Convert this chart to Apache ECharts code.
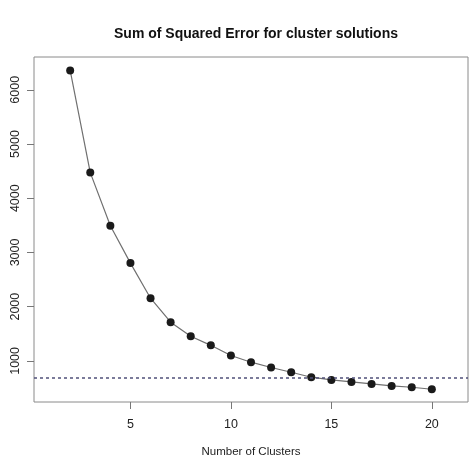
<!DOCTYPE html>
<html>
<head>
<meta charset="utf-8">
<script src="https://cdn.jsdelivr.net/npm/echarts@6/dist/echarts.min.js"></script>
<style>html,body{margin:0;padding:0;background:#fff}#c{width:474px;height:474px}</style>
</head>
<body>
<div id="c"></div>
<script>
const clusters = [2,3,4,5,6,7,8,9,10,11,12,13,14,15,16,17,18,19,20];
const sse = [6357,4472,3492,2803,2156,1713,1454,1287,1100,976,878,791,699,649,612,575,538,514,477];
const refLine = 695;
const xTicks = [5,10,15,20];
const yTicks = [1000,2000,3000,4000,5000,6000];
const titleText = 'Sum of Squared Error for cluster solutions';
const xName = 'Number of Clusters';

const font = 'Liberation Sans, Arial, Helvetica, sans-serif';
const chart = echarts.init(document.getElementById('c'), null, {renderer:'canvas'});
chart.setOption({
  backgroundColor: '#fff',
  animation: false,
  title: {
    text: titleText, left: 251, top: 22, textAlign: 'center',
    textStyle: {fontFamily: font, fontSize: 14, fontWeight: 'bold', color: '#111'}
  },
  grid: {left: 34, right: 6, top: 57, bottom: 72, show: true, borderColor: '#8a8a8a', borderWidth: 1, backgroundColor: 'transparent'},
  xAxis: {
    type: 'value', min: 0.2, max: 21.8,
    name: xName, nameLocation: 'middle', nameGap: 44,
    nameTextStyle: {fontFamily: font, fontSize: 11.5, color: '#222'},
    axisLine: {show: false},
    axisTick: {show: true, length: 7, customValues: xTicks, lineStyle: {color: '#777'}},
    axisLabel: {customValues: xTicks, margin: 16, fontFamily: font, fontSize: 12.5, color: '#222',
      formatter: v => String(v)},
    splitLine: {show: false}
  },
  yAxis: {
    type: 'value', min: 242, max: 6604,
    axisLine: {show: false},
    axisTick: {show: true, length: 7, customValues: yTicks, lineStyle: {color: '#777'}},
    axisLabel: {customValues: yTicks, rotate: 90, margin: 12, fontFamily: font, fontSize: 12.5, color: '#222',
      formatter: v => String(v)},
    splitLine: {show: false}
  },
  series: [{
    type: 'line',
    data: clusters.map((c, i) => [c, sse[i]]),
    symbol: 'circle', symbolSize: 8,
    lineStyle: {color: '#707070', width: 1.2},
    itemStyle: {color: '#1a1a1a'},
    markLine: {
      silent: true, symbol: ['none','none'], label: {show: false},
      lineStyle: {type: [3,3], color: '#50507a', width: 1.5},
      data: [{yAxis: refLine}]
    }
  }]
});
</script>
</body>
</html>
